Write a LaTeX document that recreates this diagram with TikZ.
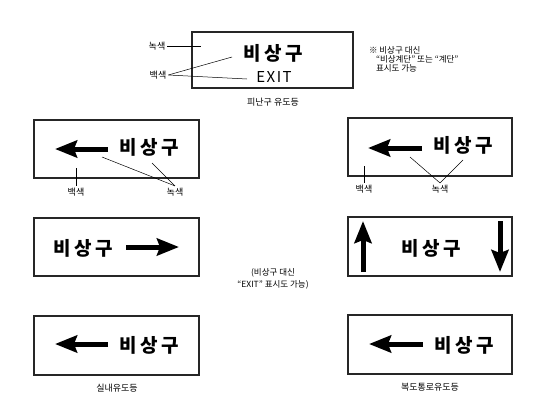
\documentclass[tikz,border=0pt]{standalone}
\usepackage{fontspec}
\newfontfamily\kr{Noto Sans CJK KR}
\usetikzlibrary{arrows.meta}

\newcommand{\exitname}{비\hspace{3.5pt}상\hspace{3.5pt}구}

\tikzset{
  sign/.style={draw=black!85, line width=1.1pt},
  bigtxt/.style={font=\kr\bfseries\fontsize{19}{19}\selectfont, inner sep=0pt},
  lbl/.style={font=\kr\fontsize{9}{9}\selectfont, inner sep=0pt, outer sep=2pt},
  note/.style={lbl, anchor=west, font=\kr\fontsize{8.5}{9}\selectfont},
  fat/.style={line width=5pt, -{Stealth[length=22pt,width=17pt,inset=3pt]}},
  lead/.style={line width=0.5pt},
}

\begin{document}
\begin{tikzpicture}[x=1pt,y=-1pt,>=latex]
  \useasboundingbox (0,0) rectangle (541,413);

  % 피난구 유도등
  \draw[sign] (192,32) rectangle (353,88);
  \node[bigtxt] (t0) at (273,53) {\exitname};
  \node[font=\kr\fontsize{15}{15}\selectfont, inner sep=0pt] (e0) at (274,77) {E\hspace{1.5pt}X\hspace{1.5pt}I\hspace{1.5pt}T};
  \node[lbl] (g0) at (157,46) {녹색};
  \node[lbl] (w0) at (158,75) {백색};
  \coordinate (g0p) at (201,46);
  \coordinate (w0a) at (232,57);
  \coordinate (w0b) at (247,79);
  \draw[lead] (g0) -- (g0p);
  \draw[lead] (w0.east) -- (w0a);
  \draw[lead] (w0.east) -- (w0b);
  \node[lbl] (c0) at (273,102) {피난구 유도등};

  % 주석
  \node[note] (n1) at (367,50) {※ 비상구 대신};
  \node[note] (n2) at (374,59) {“비상계단” 또는 “계단”};
  \node[note] (n3) at (374,68) {표시도 가능};

  % 실내유도등
  \draw[sign] (34,120) rectangle (199,178);
  \draw[fat] (108,149) -- (55,149);
  \node[bigtxt] (t1) at (149,147) {\exitname};
  \node[lbl] (w1) at (76,192) {백색};
  \node[lbl] (g1) at (175,192) {녹색};
  \coordinate (w1p) at (76,168);
  \coordinate (g1a) at (102,157);
  \coordinate (g1b) at (152,163);
  \draw[lead] (w1) -- (w1p);
  \draw[lead] (g1.north) -- (g1a);
  \draw[lead] (g1.north) -- (g1b);

  \draw[sign] (34,218) rectangle (199,276);
  \node[bigtxt] (t2) at (83,248) {\exitname};
  \draw[fat] (126,247) -- (179,247);

  \draw[sign] (34,316) rectangle (199,375);
  \draw[fat] (108,344) -- (55,344);
  \node[bigtxt] (t3) at (149,345) {\exitname};
  \node[lbl] (c1) at (117,388) {실내유도등};

  % 복도통로유도등
  \draw[sign] (348,118) rectangle (512,176);
  \draw[fat] (422,148) -- (368,148);
  \node[bigtxt] (t4) at (463,145) {\exitname};
  \node[lbl] (w4) at (364,189) {백색};
  \node[lbl] (g4) at (440,189) {녹색};
  \coordinate (w4p) at (364,166);
  \coordinate (g4a) at (410,157);
  \coordinate (g4b) at (463,160);
  \draw[lead] (w4) -- (w4p);
  \draw[lead] (g4.north) -- (g4a);
  \draw[lead] (g4.north) -- (g4b);

  \draw[sign] (348,217) rectangle (512,276);
  \draw[fat] (363,272) -- (363,221);
  \node[bigtxt] (t5) at (431,248) {\exitname};
  \draw[fat] (500,221) -- (500,272);

  \draw[sign] (348,315) rectangle (512,374);
  \draw[fat] (423,344) -- (369,344);
  \node[bigtxt] (t6) at (464,345) {\exitname};
  \node[lbl] (c2) at (430,387) {복도통로유도등};

  % 가운데 주석
  \node[lbl, align=center, font=\kr\fontsize{8.5}{11.5}\selectfont] (n4) at (273,279) {(비상구 대신\\“EXIT” 표시도 가능)};
\end{tikzpicture}
\end{document}
